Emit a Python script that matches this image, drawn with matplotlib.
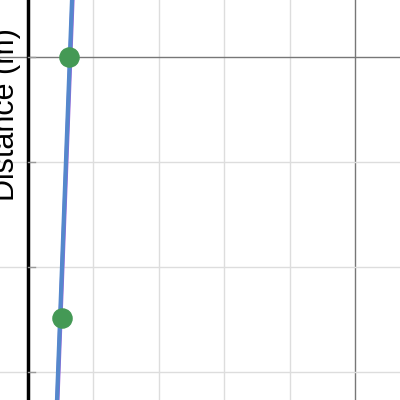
import matplotlib
matplotlib.use("Agg")
import matplotlib.pyplot as plt

pts_x = [0.626, 0.519]
pts_y = [4.0, 1.514]
line1_x = [0.443, 0.672]
line1_y = [0.733, 4.543]
line2_x = [0.450, 0.680]
line2_y = [0.733, 4.543]

fig = plt.figure(figsize=(4, 4), dpi=100)
ax = fig.add_axes([0, 0, 1, 1])
ax.set_xlim(-0.427, 5.68)
ax.set_ylim(0.733, 4.543)
for x in [1, 2, 3, 4]:
    ax.axvline(x, color="#dddddd", lw=1, zorder=0)
ax.axvline(5, color="#777777", lw=1, zorder=0)
for y in [1, 2, 3]:
    ax.axhline(y, color="#dddddd", lw=1, zorder=0)
ax.axhline(4, color="#777777", lw=1, zorder=0)
ax.axvline(0, color="black", lw=2.5, zorder=1)
for y in [1, 2, 3, 4]:
    ax.plot([0, 0.1], [y, y], color="#999999", lw=1, zorder=1)
ax.plot(line2_x, line2_y, color="#9966dd", lw=3, zorder=2)
ax.plot(line1_x, line1_y, color="#5588cc", lw=3, zorder=3)
ax.scatter(pts_x, pts_y, s=190, color="#449955", zorder=4)
ax.text(-0.33, 3.45, "Distance (m)", rotation=90, fontsize=22,
        family="Liberation Sans", ha="center", va="center")
ax.axis("off")
fig.savefig("out.png")
